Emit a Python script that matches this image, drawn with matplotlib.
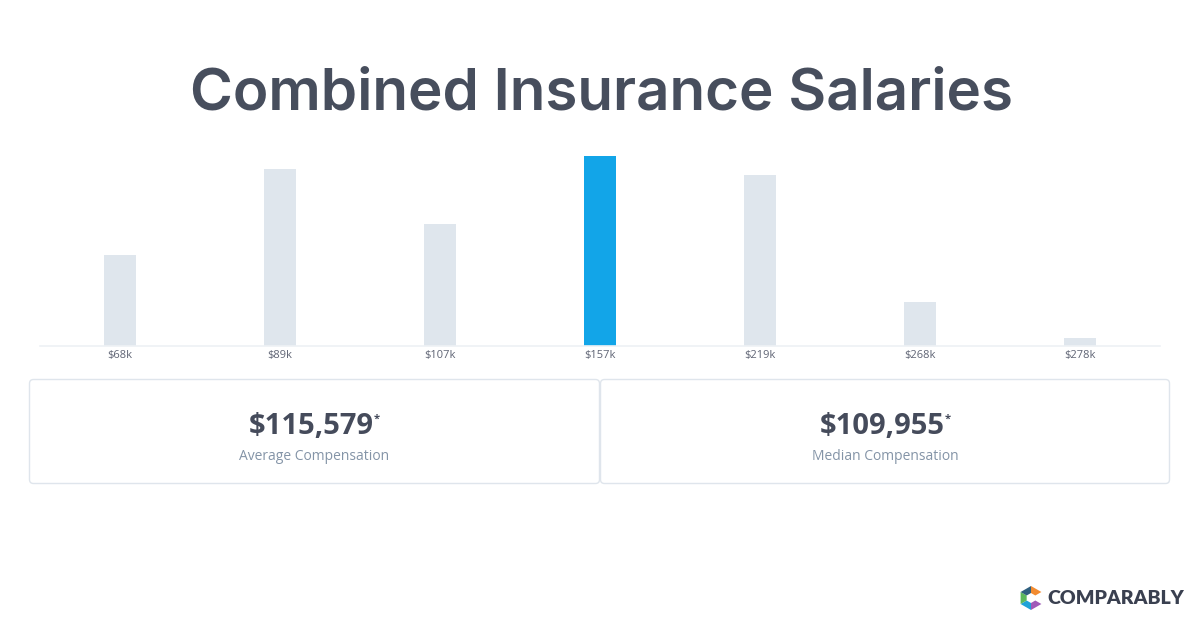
import matplotlib
matplotlib.use("Agg")
import matplotlib.pyplot as plt
from matplotlib.patches import FancyBboxPatch, Polygon
import math

# ---- data ----
categories = ["$68k", "$89k", "$107k", "$157k", "$219k", "$268k", "$278k"]
counts = [91, 177, 122, 190, 171, 44, 8]
highlight_index = 3
title = "Combined Insurance Salaries"
stat_values = ["$115,579", "$109,955"]
stat_labels = ["Average Compensation", "Median Compensation"]

W, H = 1200, 630
fig = plt.figure(figsize=(12, 6.3), dpi=100)
fig.patch.set_facecolor("white")

ov = fig.add_axes([0, 0, 1, 1])
ov.set_xlim(0, W)
ov.set_ylim(H, 0)
ov.axis("off")

ov.text(601, 109, title, ha="center", va="baseline", fontsize=42,
        fontweight="semibold", color="#474e5d", family="Inter")

# bar chart axes
base_y = 346
ax_h = 200
ax = fig.add_axes([40 / W, (H - base_y) / H, 1120 / W, ax_h / H])
colors = ["#12a5e8" if i == highlight_index else "#dfe6ed" for i in range(len(counts))]
ax.bar(range(len(counts)), counts, width=0.2, color=colors)
ax.set_xlim(-0.5, len(counts) - 0.5)
ax.set_ylim(0, ax_h)
for s in ["top", "right", "left"]:
    ax.spines[s].set_visible(False)
ax.spines["bottom"].set_color("#eef1f5")
ax.spines["bottom"].set_linewidth(1.2)
ax.set_yticks([])
ax.set_xticks(range(len(categories)))
ax.set_xticklabels(categories, fontsize=8, color="#5f6474", family="Open Sans")
ax.tick_params(axis="x", length=0, pad=3)
ax.patch.set_alpha(0)

# stat boxes
boxes = [(29, 600), (600, 1170)]
fig.canvas.draw()
for (x0, x1), val, lab in zip(boxes, stat_values, stat_labels):
    ov.add_patch(FancyBboxPatch((x0 + 0.5, 379.5), x1 - x0 - 1, 104,
                                boxstyle="round,pad=0,rounding_size=4",
                                fc="white", ec="#dfe5ec", lw=1.0))
    cx = (x0 + x1) / 2
    t = ov.text(cx - 3, 427, val, ha="center", va="center", fontsize=21,
                fontweight="bold", color="#454b5b", family="Open Sans")
    ov.text(cx, 457, lab, ha="center", va="center", fontsize=10,
            color="#8494a7", family="Open Sans")
    fig.canvas.draw()
    bb = t.get_window_extent()
    ov.text(bb.x1, 419, "*", ha="left", va="center", fontsize=8,
            fontweight="bold", color="#454b5b", family="Open Sans")

# logo mark
cx, cy, r = 1031, 598, 12
pts = [(cx + r * math.cos(math.radians(a)), cy - r * math.sin(math.radians(a)))
       for a in (90, 30, -30, -90, -150, 150)]
seg_colors = ["#f28b30", "#f28b30", "#a05bb8", "#1fa3d8", "#5cb85c", "#2f5f7f"]
inner = [(cx + 5 * math.cos(math.radians(a)), cy - 5 * math.sin(math.radians(a)))
         for a in (90, 30, -30, -90, -150, 150)]
for i in range(6):
    j = (i + 1) % 6
    if i == 1:
        continue
    ov.add_patch(Polygon([pts[i], pts[j], inner[j], inner[i]], closed=True,
                         fc=seg_colors[i], ec="none"))
ov.text(1047, 599, "COMPARABLY", ha="left", va="center", fontsize=14,
        fontweight="heavy", color="#3a4050", family="Lato")

fig.savefig("out.png", dpi=100, facecolor="white")
